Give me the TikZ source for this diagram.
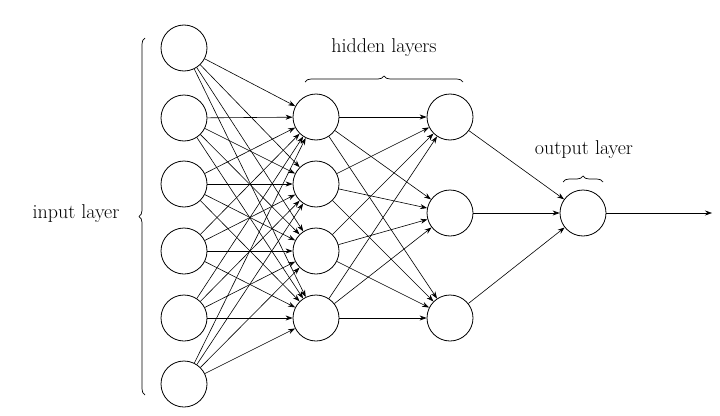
\documentclass[tikz,border=0pt]{standalone}
\usetikzlibrary{decorations.pathreplacing,arrows.meta}
\begin{document}
\begin{tikzpicture}[x=1pt,y=-1pt,
  neuron/.style={circle,draw,line width=0.8pt,minimum size=46pt,inner sep=0pt},
  conn/.style={-{Stealth[length=7pt,width=5pt]},line width=0.6pt},
  lbl/.style={font=\fontsize{20}{24}\selectfont},
  br/.style={decorate,decoration={brace,amplitude=6pt},line width=0.7pt}]
\useasboundingbox (0,0) rectangle (720,415);
\foreach \y [count=\i] in {48,118,184,251,318,384} \node[neuron] (I\i) at (184,\y) {};
\foreach \y [count=\i] in {117,184,251,318} \node[neuron] (A\i) at (316,\y) {};
\foreach \y [count=\i] in {117,213,318} \node[neuron] (B\i) at (450,\y) {};
\node[neuron] (O) at (583,213) {};
\coordinate (E) at (712,213);
\foreach \i in {1,...,6} \foreach \j in {1,...,4} \draw[conn] (I\i) -- (A\j);
\foreach \i in {1,...,4} \foreach \j in {1,...,3} \draw[conn] (A\i) -- (B\j);
\foreach \i in {1,...,3} \draw[conn] (B\i) -- (O);
\draw[conn] (O) -- (E);
\draw[br] (145,395) -- (145,38);
\node[lbl] (il) at (76,214) {input layer};
\draw[br] (305,82) -- (463,82);
\node[lbl] (hl) at (384,48) {hidden layers};
\draw[br] (563,182) -- (603,182);
\node[lbl] (ol) at (584,150) {output layer};
\end{tikzpicture}
\end{document}
